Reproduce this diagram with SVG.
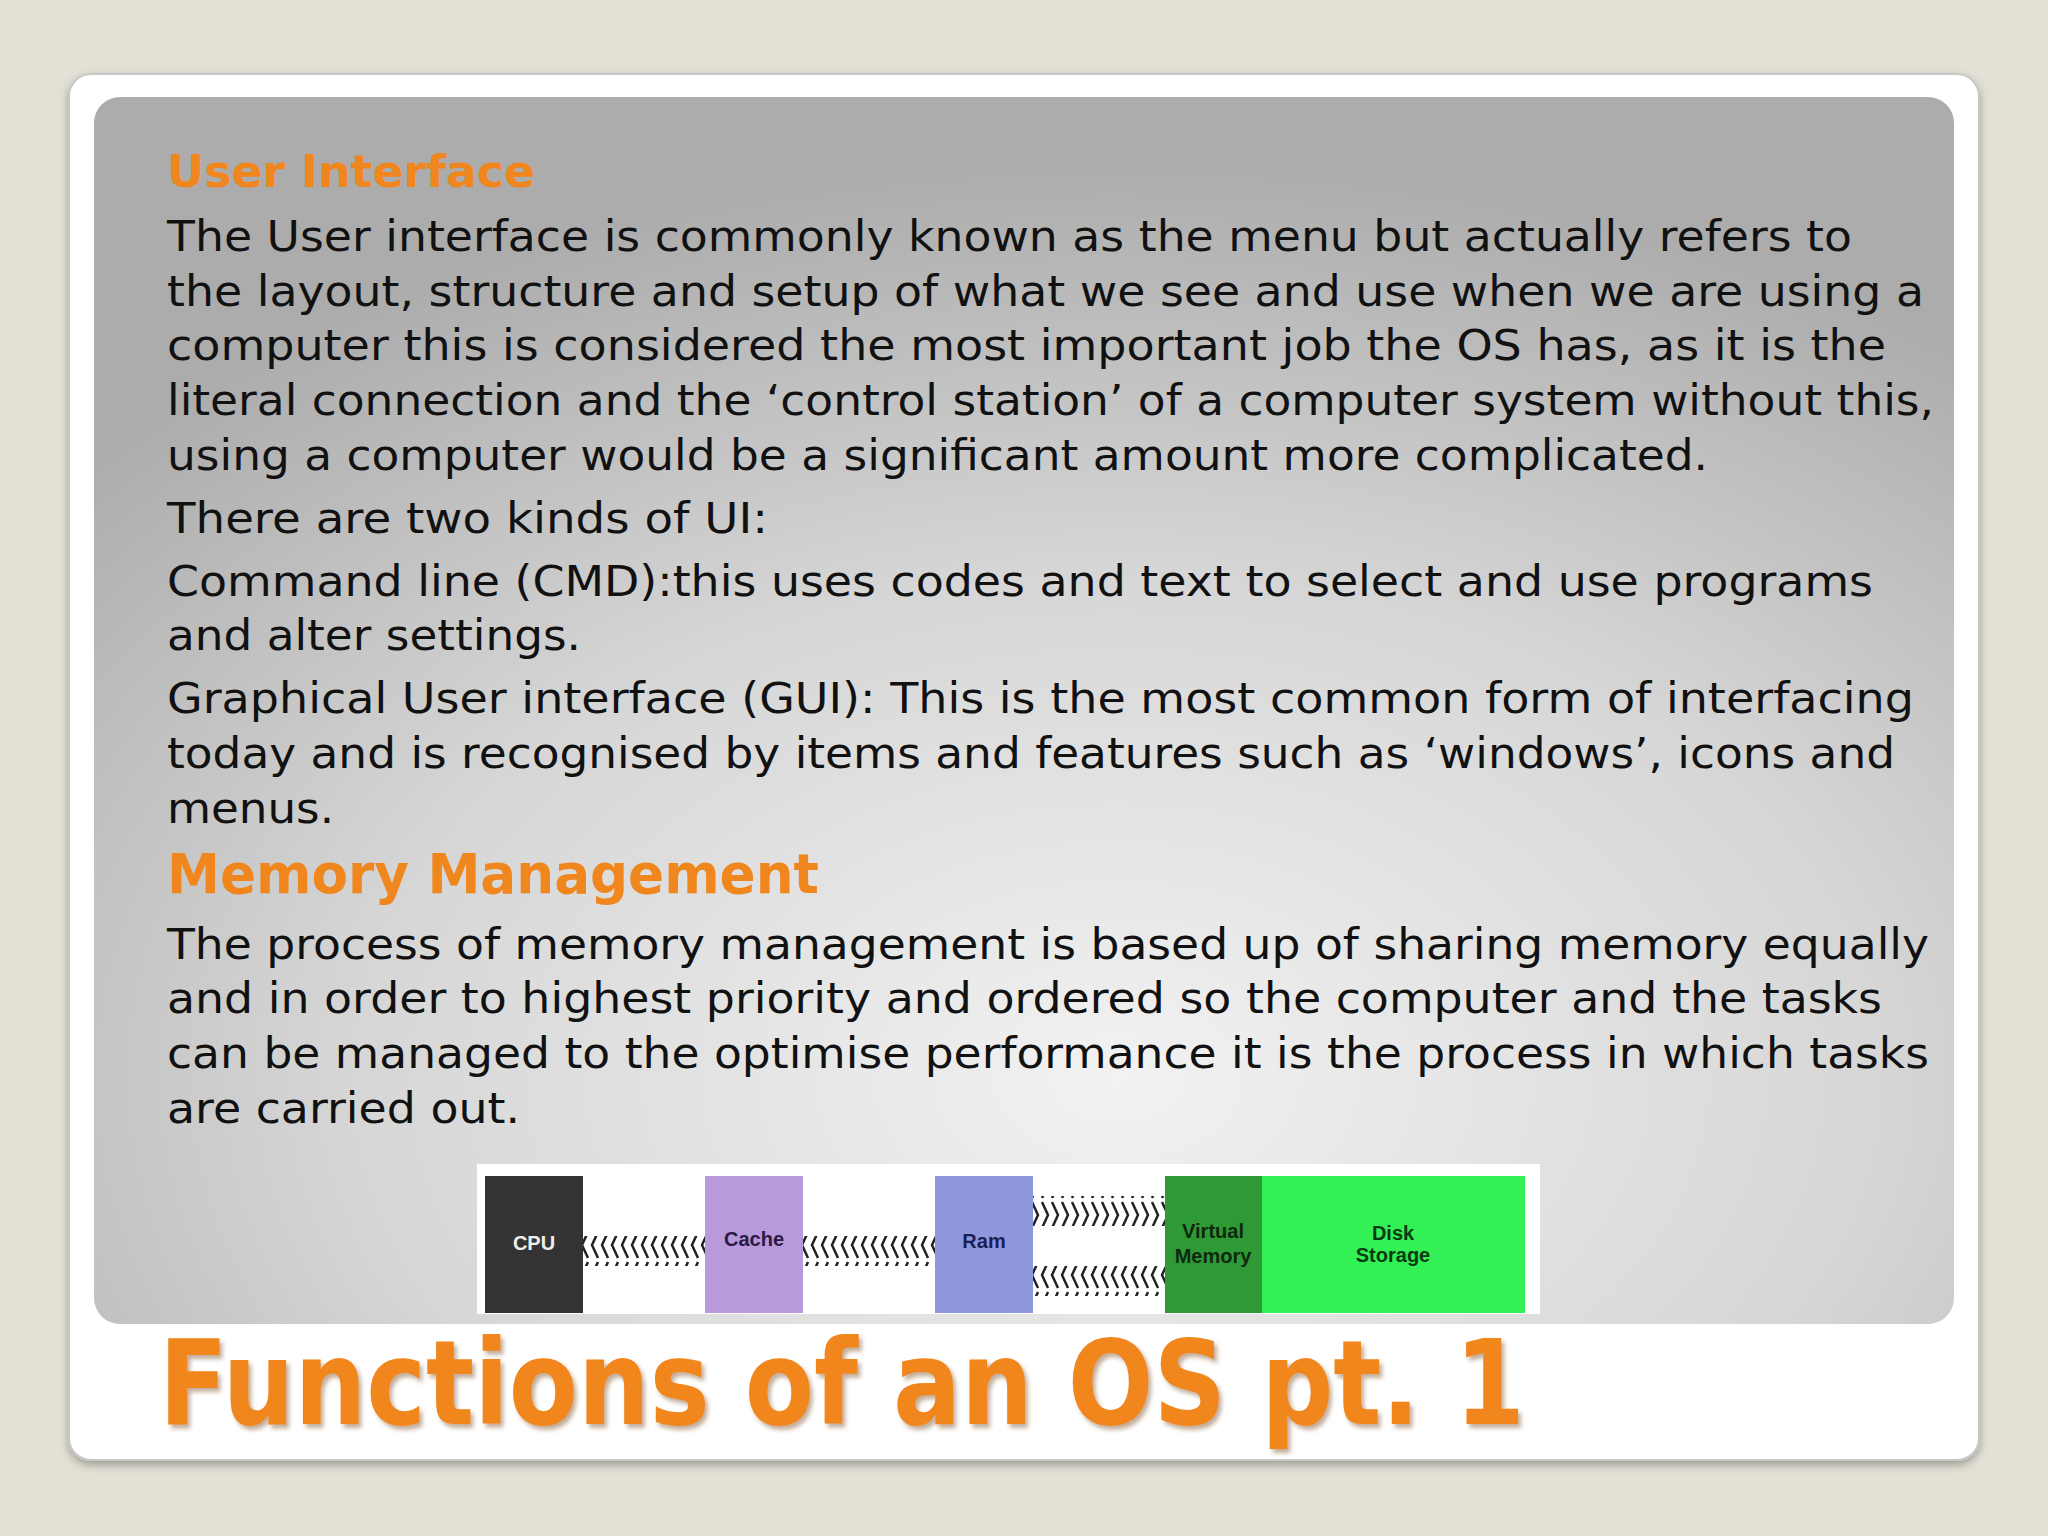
<svg xmlns="http://www.w3.org/2000/svg" width="2048" height="1536" viewBox="0 0 2048 1536">
<defs>
<radialGradient id="bg" cx="0.55" cy="0.8" r="0.75">
<stop offset="0" stop-color="#f2f2f2"/><stop offset="0.55" stop-color="#d6d6d6"/><stop offset="1" stop-color="#acacac"/>
</radialGradient>
<filter id="sh" x="-5%" y="-5%" width="110%" height="115%"><feDropShadow dx="0" dy="4" stdDeviation="4" flood-color="#000" flood-opacity="0.3"/></filter>
<filter id="tsh"><feDropShadow dx="3" dy="4" stdDeviation="2" flood-color="#7a4a20" flood-opacity="0.45"/></filter>
<pattern id="chL" width="10" height="30" patternUnits="userSpaceOnUse"><polyline points="8,2 2,15 8,28" fill="none" stroke="#222" stroke-width="2.5"/></pattern>
<pattern id="chR" width="10" height="30" patternUnits="userSpaceOnUse"><polyline points="2,2 8,15 2,28" fill="none" stroke="#222" stroke-width="2.5"/></pattern>
</defs>
<style>
.b{font-family:"DejaVu Sans","Verdana",sans-serif;font-size:42px;fill:#111}
.h{font-family:"DejaVu Sans","Verdana",sans-serif;font-weight:bold;fill:#F0861E}
.s{font-family:"Liberation Sans",Arial,sans-serif;font-weight:bold;font-size:20px;text-anchor:middle}
</style>
<rect width="2048" height="1536" fill="#E3E0D5"/>
<rect x="69" y="74" width="1910" height="1386" rx="22" fill="#fff" stroke="#c8c8c8" stroke-width="2" filter="url(#sh)"/>
<rect x="94" y="97" width="1860" height="1227" rx="26" fill="url(#bg)"/>
<g id="ui">
<text class="h" x="167" y="187" font-size="44" textLength="368" lengthAdjust="spacingAndGlyphs">User Interface</text>
<text class="b" x="167" y="251" textLength="1685" lengthAdjust="spacingAndGlyphs">The User interface is commonly known as the menu but actually refers to</text>
<text class="b" x="167" y="306" textLength="1757" lengthAdjust="spacingAndGlyphs">the layout, structure and setup of what we see and use when we are using a</text>
<text class="b" x="167" y="360" textLength="1719" lengthAdjust="spacingAndGlyphs">computer this is considered the most important job the OS has, as it is the</text>
<text class="b" x="167" y="415" textLength="1767" lengthAdjust="spacingAndGlyphs">literal connection and the ‘control station’ of a computer system without this,</text>
<text class="b" x="167" y="470" textLength="1541" lengthAdjust="spacingAndGlyphs">using a computer would be a significant amount more complicated.</text>
<text class="b" x="167" y="533" textLength="601" lengthAdjust="spacingAndGlyphs">There are two kinds of UI:</text>
<text class="b" x="167" y="596" textLength="1706" lengthAdjust="spacingAndGlyphs">Command line (CMD):this uses codes and text to select and use programs</text>
<text class="b" x="167" y="650" textLength="414" lengthAdjust="spacingAndGlyphs">and alter settings.</text>
<text class="b" x="167" y="713" textLength="1747" lengthAdjust="spacingAndGlyphs">Graphical User interface (GUI): This is the most common form of interfacing</text>
<text class="b" x="167" y="768" textLength="1728" lengthAdjust="spacingAndGlyphs">today and is recognised by items and features such as ‘windows’, icons and</text>
<text class="b" x="167" y="823" textLength="167" lengthAdjust="spacingAndGlyphs">menus.</text>
</g>
<g id="mm">
<text class="h" x="167" y="893" font-size="56" textLength="652" lengthAdjust="spacingAndGlyphs">Memory Management</text>
<text class="b" x="167" y="959" textLength="1762" lengthAdjust="spacingAndGlyphs">The process of memory management is based up of sharing memory equally</text>
<text class="b" x="167" y="1013" textLength="1715" lengthAdjust="spacingAndGlyphs">and in order to highest priority and ordered so the computer and the tasks</text>
<text class="b" x="167" y="1068" textLength="1762" lengthAdjust="spacingAndGlyphs">can be managed to the optimise performance it is the process in which tasks</text>
<text class="b" x="167" y="1123" textLength="353" lengthAdjust="spacingAndGlyphs">are carried out.</text>
</g>
<g id="strip">
<rect x="477" y="1164" width="1063" height="150" fill="#fff"/>
<g id="cpu"><rect x="485" y="1176" width="98" height="137" fill="#333"/><text class="s" x="534" y="1250" fill="#eee">CPU</text></g>
<g id="cache"><rect x="705" y="1176" width="98" height="137" fill="#b899dc"/><text class="s" x="754" y="1246" fill="#2a1a44">Cache</text></g>
<g id="ram"><rect x="935" y="1176" width="98" height="137" fill="#8f97db"/><text class="s" x="984" y="1248" fill="#1a1f55">Ram</text></g>
<g id="vm"><rect x="1165" y="1176" width="97" height="137" fill="#2f9a35"/><text class="s" x="1213" y="1238" fill="#0d2a0d">Virtual</text><text class="s" x="1213" y="1263" fill="#0d2a0d">Memory</text></g>
<g id="disk"><rect x="1262" y="1176" width="263" height="137" fill="#33f055"/><text class="s" x="1393" y="1240" fill="#0a3a12">Disk</text><text class="s" x="1393" y="1262" fill="#0a3a12">Storage</text></g>
</g>
<g id="connectors">
<rect x="583" y="1236" width="122" height="30" fill="url(#chL)"/>
<rect x="803" y="1236" width="132" height="30" fill="url(#chL)"/>
<rect x="1033" y="1196" width="132" height="30" fill="url(#chR)"/>
<rect x="1033" y="1266" width="132" height="30" fill="url(#chL)"/>
</g>
<text class="h" x="159" y="1424" font-size="118" textLength="1366" lengthAdjust="spacingAndGlyphs" filter="url(#tsh)">Functions of an OS pt. 1</text>
</svg>
